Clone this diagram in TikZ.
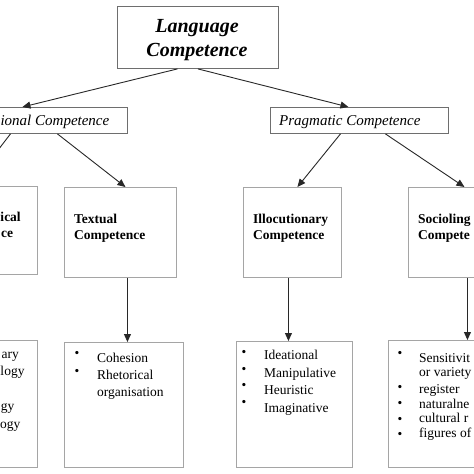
\documentclass[tikz,border=0pt]{standalone}
\usepackage{fontspec}
\setmainfont{Liberation Serif}
\usetikzlibrary{arrows.meta,calc}
\definecolor{boxdark}{RGB}{110,110,110}
\definecolor{boxlight}{RGB}{165,165,165}
\definecolor{linedark}{RGB}{40,40,40}
\begin{document}
\begin{tikzpicture}[x=1pt,y=-1pt,
  box/.style={draw=boxlight, line width=0.9pt, anchor=north west, inner sep=0pt},
  topbox/.style={box, draw=boxdark},
  conn/.style={draw=linedark, line width=0.9pt, -{Triangle[length=8pt,width=7pt]}},
  title/.style={font=\fontsize{20}{24}\selectfont\bfseries\itshape, anchor=base, inner sep=0pt},
  mid/.style={font=\fontsize{15}{18}\selectfont\itshape, inner sep=0pt},
  head/.style={font=\fontsize{13.5}{16}\selectfont\bfseries, anchor=base west, inner sep=0pt},
  item/.style={font=\fontsize{13.5}{16}\selectfont, anchor=base west, inner sep=0pt},
  bul/.style={font=\fontsize{13.5}{16}\selectfont, anchor=center, inner sep=0pt}
]
\useasboundingbox (0,0) rectangle (474,474);
\fill[white] (0,0) rectangle (474,474);
\clip (0,0) rectangle (474,474);

% boxes
\node[topbox, minimum width=161, minimum height=62] (lang) at (117,6) {};
\node[topbox, minimum width=178, minimum height=26] (org) at (-51,107) {};
\node[topbox, minimum width=178, minimum height=26] (prag) at (270,107) {};
\node[box, minimum width=112, minimum height=88] (gram) at (-75,186) {};
\node[box, minimum width=112, minimum height=90] (text) at (64,187) {};
\node[box, minimum width=98, minimum height=90] (illo) at (243,187) {};
\node[box, minimum width=112, minimum height=90] (soci) at (408,187) {};
\node[box, minimum width=119, minimum height=127] (gramL) at (-82,340) {};
\node[box, minimum width=119, minimum height=125] (textL) at (64,342) {};
\node[box, minimum width=116, minimum height=126] (illoL) at (236,341) {};
\node[box, minimum width=119, minimum height=127] (sociL) at (388,340) {};

% connectors
\draw[conn] ($(lang.south)+(-20.5,0)$) -- ($(org.north)+(-16,0)$);
\draw[conn] (lang.south) -- ($(prag.north)+(-11,0)$);
\draw[conn] ($(org.south)+(-28,0)$) -- ($(gram.north)+(-11,0)$);
\draw[conn] ($(org.south)+(19,0)$) -- ($(text.north)+(5,0)$);
\draw[conn] ($(prag.south)+(-19,0)$) -- ($(illo.north)+(5,0)$);
\draw[conn] ($(prag.south)+(26,0)$) -- (soci.north);
\coordinate (gA) at (gram.south);
\coordinate (tA) at ($(text.south)+(7,0)$);
\coordinate (iA) at ($(illo.south)+(-4,0)$);
\coordinate (sA) at ($(soci.south)+(3,0)$);
\draw[conn] (gA) -- (gA |- gramL.north);
\draw[conn] (tA) -- (tA |- textL.north);
\draw[conn] (iA) -- (iA |- illoL.north);
\draw[conn] (sA) -- (sA |- sociL.north);

% titles
\node[title] (langT1) at (197,32) {Language};
\node[title] (langT2) at (197,56) {Competence};
\node[mid, anchor=base east] (orgT) at (109.5,125) {ional Competence};
\node[mid, anchor=base west] (pragT) at (279,125) {Pragmatic Competence};

% headers
\node[head] (gramT1) at (0.3,221) {ical};
\node[head, anchor=base east] (gramT2) at (13.2,237) {ce};
\node[head] (textT1) at (74,223) {Textual};
\node[head] (textT2) at (74,239) {Competence};
\node[head] (illoT1) at (253,223) {Illocutionary};
\node[head] (illoT2) at (253,239) {Competence};
\node[head] (sociT1) at (418,223) {Socioling};
\node[head] (sociT2) at (418,239) {Compete};

% grammatical list (visible ends)
\node[item, anchor=base east] (gi1) at (19,358) {ary};
\node[item] (gi2) at (0.3,375.5) {logy};
\node[item, anchor=base east] (gi4) at (14.5,410.5) {gy};
\node[item, anchor=base east] (gi5) at (20.5,428) {ogy};

% textual list
\node[bul] (tb1) at (77,354) {•};
\node[bul] (tb2) at (77,372) {•};
\node[item] (ti1) at (97,362) {Cohesion};
\node[item] (ti2) at (97,379) {Rhetorical};
\node[item] (ti3) at (97,396) {organisation};

% illocutionary list
\node[bul] (ib1) at (244,353) {•};
\node[bul] (ib2) at (244,370) {•};
\node[bul] (ib3) at (244,386) {•};
\node[bul] (ib4) at (244,403) {•};
\node[item] (ii1) at (264,359) {Ideational};
\node[item] (ii2) at (264,377) {Manipulative};
\node[item] (ii3) at (264,394) {Heuristic};
\node[item] (ii4) at (264,412) {Imaginative};

% sociolinguistic list
\node[bul] (sb1) at (400,354) {•};
\node[bul] (sb2) at (400,388) {•};
\node[bul] (sb3) at (400,404) {•};
\node[bul] (sb4) at (400,420) {•};
\node[bul] (sb5) at (400,435) {•};
\node[item] (si1) at (419,362) {Sensitivit};
\node[item] (si2) at (419,376) {or variety};
\node[item] (si3) at (419,393) {register};
\node[item] (si4) at (419,408) {naturalne};
\node[item] (si5) at (419,422) {cultural r};
\node[item] (si6) at (419,437) {figures of};
\end{tikzpicture}
\end{document}
